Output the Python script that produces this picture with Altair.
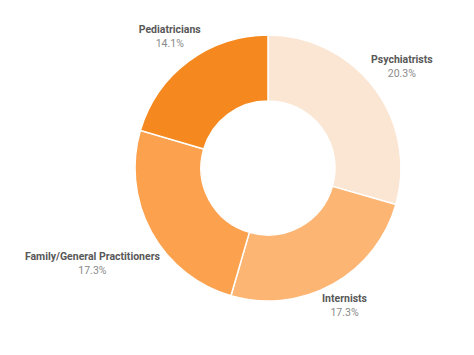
import altair as alt
import pandas as pd

categories = ["Psychiatrists", "Internists", "Family/General Practitioners", "Pediatricians"]
values = [20.3, 17.3, 17.3, 14.1]
colors = ["#fbe6d3", "#fdb574", "#fca14e", "#f5891f"]

df = pd.DataFrame({"category": categories, "value": values})

base = alt.Chart(df).transform_window(
    idx="row_number()"
).transform_window(
    cum="sum(value)", frame=[None, 0], sort=[alt.SortField("idx")]
).transform_joinaggregate(
    total="sum(value)"
).transform_calculate(
    mid="(datum.cum - datum.value / 2) / datum.total * 2 * PI",
    label="format(datum.value, '.1f') + '%'",
).transform_calculate(
    r="135 + 0.5 * abs(sin(datum.mid)) * length(datum.category) * 4.8 + 0.5 * abs(cos(datum.mid)) * 26"
)

arcs = base.mark_arc(innerRadius=67, outerRadius=133, stroke="white", strokeWidth=1.5).encode(
    theta=alt.Theta("value:Q", stack=True),
    order=alt.Order("idx:Q"),
    color=alt.Color("category:N", scale=alt.Scale(domain=categories, range=colors), legend=None),
)

names = base.mark_text(font="Roboto", fontSize=10.5, fontWeight="bold", color="#585858", dy=-7).encode(
    theta=alt.Theta("mid:Q", scale=None, stack=False),
    radius=alt.Radius("r:Q", scale=None),
    text="category:N",
)

pcts = base.mark_text(font="Roboto", fontSize=10.5, color="#8a8a8a", dy=7).encode(
    theta=alt.Theta("mid:Q", scale=None, stack=False),
    radius=alt.Radius("r:Q", scale=None),
    text="label:N",
)

chart = alt.layer(arcs, names, pcts).resolve_scale(theta="independent").properties(
    width=412,
    height=336,
    padding={"left": 62, "top": 0, "right": 0, "bottom": 19},
    autosize=alt.AutoSizeParams(type="none"),
).configure_view(stroke=None).configure(background="white")

chart.save("out.html", embed_options={"renderer": "svg", "actions": False})
